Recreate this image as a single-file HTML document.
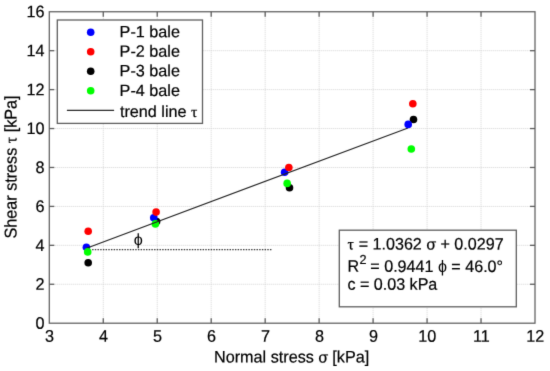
<!DOCTYPE html>
<html><head><meta charset="utf-8"><style>
html,body{margin:0;padding:0;background:#fff;width:550px;height:371px;overflow:hidden}
svg{display:block}
</style></head><body>
<svg width="550" height="371" viewBox="0 0 550 371"><defs><filter id="b" x="0" y="0" width="550" height="371" filterUnits="userSpaceOnUse" color-interpolation-filters="sRGB"><feConvolveMatrix order="3" kernelMatrix="0.0100 0.0800 0.0100 0.0800 0.6400 0.0800 0.0100 0.0800 0.0100" divisor="1" edgeMode="duplicate" preserveAlpha="true"/></filter></defs><g filter="url(#b)"><rect width="550" height="371" fill="#fff"/><g stroke="#d4d4d4" stroke-width="1" stroke-dasharray="1 1"><line x1="103.27" y1="11.75" x2="103.27" y2="323.20"/><line x1="157.23" y1="11.75" x2="157.23" y2="323.20"/><line x1="211.20" y1="11.75" x2="211.20" y2="323.20"/><line x1="265.17" y1="11.75" x2="265.17" y2="323.20"/><line x1="319.13" y1="11.75" x2="319.13" y2="323.20"/><line x1="373.10" y1="11.75" x2="373.10" y2="323.20"/><line x1="427.07" y1="11.75" x2="427.07" y2="323.20"/><line x1="481.03" y1="11.75" x2="481.03" y2="323.20"/><line x1="49.30" y1="284.27" x2="535.00" y2="284.27"/><line x1="49.30" y1="245.34" x2="535.00" y2="245.34"/><line x1="49.30" y1="206.41" x2="535.00" y2="206.41"/><line x1="49.30" y1="167.47" x2="535.00" y2="167.47"/><line x1="49.30" y1="128.54" x2="535.00" y2="128.54"/><line x1="49.30" y1="89.61" x2="535.00" y2="89.61"/><line x1="49.30" y1="50.68" x2="535.00" y2="50.68"/></g>
<g stroke="#5e5e5e" stroke-width="1.3"><line x1="103.27" y1="323.20" x2="103.27" y2="318.20"/><line x1="103.27" y1="11.75" x2="103.27" y2="16.75"/><line x1="157.23" y1="323.20" x2="157.23" y2="318.20"/><line x1="157.23" y1="11.75" x2="157.23" y2="16.75"/><line x1="211.20" y1="323.20" x2="211.20" y2="318.20"/><line x1="211.20" y1="11.75" x2="211.20" y2="16.75"/><line x1="265.17" y1="323.20" x2="265.17" y2="318.20"/><line x1="265.17" y1="11.75" x2="265.17" y2="16.75"/><line x1="319.13" y1="323.20" x2="319.13" y2="318.20"/><line x1="319.13" y1="11.75" x2="319.13" y2="16.75"/><line x1="373.10" y1="323.20" x2="373.10" y2="318.20"/><line x1="373.10" y1="11.75" x2="373.10" y2="16.75"/><line x1="427.07" y1="323.20" x2="427.07" y2="318.20"/><line x1="427.07" y1="11.75" x2="427.07" y2="16.75"/><line x1="481.03" y1="323.20" x2="481.03" y2="318.20"/><line x1="481.03" y1="11.75" x2="481.03" y2="16.75"/><line x1="49.30" y1="284.27" x2="54.30" y2="284.27"/><line x1="535.00" y1="284.27" x2="530.00" y2="284.27"/><line x1="49.30" y1="245.34" x2="54.30" y2="245.34"/><line x1="535.00" y1="245.34" x2="530.00" y2="245.34"/><line x1="49.30" y1="206.41" x2="54.30" y2="206.41"/><line x1="535.00" y1="206.41" x2="530.00" y2="206.41"/><line x1="49.30" y1="167.47" x2="54.30" y2="167.47"/><line x1="535.00" y1="167.47" x2="530.00" y2="167.47"/><line x1="49.30" y1="128.54" x2="54.30" y2="128.54"/><line x1="535.00" y1="128.54" x2="530.00" y2="128.54"/><line x1="49.30" y1="89.61" x2="54.30" y2="89.61"/><line x1="535.00" y1="89.61" x2="530.00" y2="89.61"/><line x1="49.30" y1="50.68" x2="54.30" y2="50.68"/><line x1="535.00" y1="50.68" x2="530.00" y2="50.68"/></g>
<rect x="49.30" y="11.75" width="485.70" height="311.45" fill="none" stroke="#5e5e5e" stroke-width="1.25"/>
<line x1="91" y1="249.6" x2="272.2" y2="249.6" stroke="#3a3a3a" stroke-width="1.2" stroke-dasharray="1.45 1.245" stroke-dashoffset="-1.1"/>
<circle cx="88.2" cy="262.7" r="3.8" fill="#000000"/><circle cx="88.2" cy="231.2" r="3.8" fill="#ff0000"/><circle cx="86.4" cy="247.3" r="3.8" fill="#0000ff"/><circle cx="156.6" cy="221.6" r="3.8" fill="#000000"/><circle cx="153.75" cy="217.8" r="3.8" fill="#0000ff"/><circle cx="156.1" cy="212.1" r="3.8" fill="#ff0000"/><circle cx="155.4" cy="223.9" r="3.8" fill="#00ff00"/><circle cx="289.5" cy="187.8" r="3.8" fill="#000000"/><circle cx="287.15" cy="183.4" r="3.8" fill="#00ff00"/><circle cx="284.6" cy="172.3" r="3.8" fill="#0000ff"/><circle cx="288.85" cy="167.5" r="3.8" fill="#ff0000"/><circle cx="412.84" cy="103.7" r="3.8" fill="#ff0000"/><circle cx="411.3" cy="149.05" r="3.8" fill="#00ff00"/><circle cx="413.5" cy="119.5" r="3.8" fill="#000000"/>
<line x1="86.5" y1="248.21" x2="408.0" y2="128.05" stroke="#222" stroke-width="1.15"/>
<circle cx="87.7" cy="251.9" r="3.8" fill="#00ff00"/><circle cx="408.2" cy="124.4" r="3.8" fill="#0000ff"/>
<rect x="57.3" y="20" width="145.2" height="103.4" fill="#fff" stroke="#5e5e5e" stroke-width="1.3"/>
<circle cx="90.7" cy="32.3" r="3.8" fill="#0000ff"/><circle cx="90.7" cy="51.77" r="3.8" fill="#ff0000"/><circle cx="90.7" cy="71.24" r="3.8" fill="#000000"/><circle cx="90.7" cy="90.71" r="3.8" fill="#00ff00"/><line x1="66.9" y1="110.4" x2="114.1" y2="110.4" stroke="#2a2a2a" stroke-width="1.1"/>
<rect x="339.3" y="230.2" width="177.0" height="76.6" fill="#fff" stroke="#5e5e5e" stroke-width="1.3"/>
<g text-rendering="geometricPrecision" font-family="'Liberation Sans', Arial, sans-serif" font-size="16.2" fill="#000" stroke="#000" stroke-width="0.2"><text transform="translate(49.60,341.85) rotate(0.03) scale(1,1.035)" text-anchor="middle">3</text>
<text transform="translate(103.57,341.85) rotate(0.03) scale(1,1.035)" text-anchor="middle">4</text>
<text transform="translate(157.53,341.85) rotate(0.03) scale(1,1.035)" text-anchor="middle">5</text>
<text transform="translate(211.50,341.85) rotate(0.03) scale(1,1.035)" text-anchor="middle">6</text>
<text transform="translate(265.47,341.85) rotate(0.03) scale(1,1.035)" text-anchor="middle">7</text>
<text transform="translate(319.43,341.85) rotate(0.03) scale(1,1.035)" text-anchor="middle">8</text>
<text transform="translate(373.40,341.85) rotate(0.03) scale(1,1.035)" text-anchor="middle">9</text>
<text transform="translate(427.37,341.85) rotate(0.03) scale(1,1.035)" text-anchor="middle">10</text>
<text transform="translate(481.33,341.85) rotate(0.03) scale(1,1.035)" text-anchor="middle">11</text>
<text transform="translate(535.30,341.85) rotate(0.03) scale(1,1.035)" text-anchor="middle">12</text>
<text transform="translate(44.50,328.75) rotate(0.03) scale(1,1.03)" text-anchor="end">0</text>
<text transform="translate(44.50,289.82) rotate(0.03) scale(1,1.03)" text-anchor="end">2</text>
<text transform="translate(44.50,250.89) rotate(0.03) scale(1,1.03)" text-anchor="end">4</text>
<text transform="translate(44.50,211.96) rotate(0.03) scale(1,1.03)" text-anchor="end">6</text>
<text transform="translate(44.50,173.03) rotate(0.03) scale(1,1.03)" text-anchor="end">8</text>
<text transform="translate(44.50,134.09) rotate(0.03) scale(1,1.03)" text-anchor="end">10</text>
<text transform="translate(44.50,95.16) rotate(0.03) scale(1,1.03)" text-anchor="end">12</text>
<text transform="translate(44.50,56.23) rotate(0.03) scale(1,1.03)" text-anchor="end">14</text>
<text transform="translate(44.50,17.30) rotate(0.03) scale(1,1.03)" text-anchor="end">16</text>
<text transform="translate(214.00,362.45) rotate(0.03) scale(1,1.03)">Normal stress <tspan font-family="DejaVu Serif" font-size="14.9">σ</tspan><tspan dx="-0.7"> [kPa]</tspan></text>
<text transform="translate(16.50,167.00) rotate(-89.97) scale(1,1.05)" text-anchor="middle">Shear stress <tspan font-family="Liberation Serif" font-size="15.8">τ</tspan> [kPa]</text>
<text transform="translate(138.40,244.90) rotate(0.03) scale(1,1.0)" text-anchor="middle" stroke-width="0">ϕ</text>
<text transform="translate(119.60,37.20) rotate(0.03) scale(1,1.01)">P-1 bale</text>
<text transform="translate(119.60,56.77) rotate(0.03) scale(1,1.01)">P-2 bale</text>
<text transform="translate(119.60,76.34) rotate(0.03) scale(1,1.01)">P-3 bale</text>
<text transform="translate(119.60,95.91) rotate(0.03) scale(1,1.01)">P-4 bale</text>
<text transform="translate(119.90,117.00) rotate(0.03) scale(1,1.0)">trend line <tspan font-family="Liberation Serif" font-size="15.8">τ</tspan></text>
<text transform="translate(347.40,249.55) rotate(0.03) scale(1,1.03)" font-size="16.1"><tspan font-family="Liberation Serif" font-size="15.8">τ</tspan><tspan dx="0.5"> = 1.0362 </tspan><tspan font-family="DejaVu Serif" font-size="14.9">σ</tspan><tspan dx="-0.45"> + 0.0297</tspan></text>
<text transform="translate(347.4,271.85) rotate(0.03) scale(1,1.03)" font-size="16.1">R<tspan font-size="12.6" dy="-7.6" dx="0.4">2</tspan><tspan dy="7.6" dx="-0.6"> = 0.9441 <tspan stroke-width="0">ϕ</tspan> = 46.0°</tspan></text>
<text transform="translate(347.40,289.65) rotate(0.03) scale(1,1.03)" font-size="16.1">c = 0.03 kPa</text></g></g></svg>
</body></html>
